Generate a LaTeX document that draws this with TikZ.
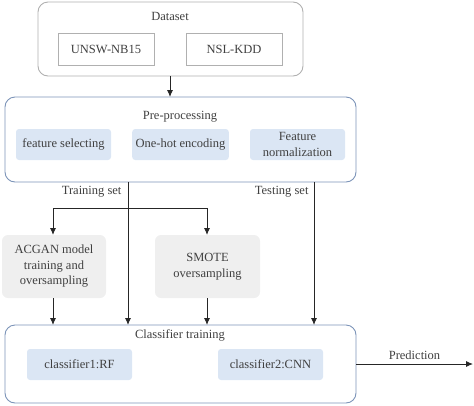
\documentclass[tikz,border=0pt]{standalone}
\usepackage{fontspec}
\setmainfont{Liberation Serif}
\usetikzlibrary{arrows.meta}
\definecolor{lblue}{HTML}{DBE6F4}
\definecolor{bborder}{HTML}{7C94B8}
\definecolor{lgray}{HTML}{EFEFEF}
\definecolor{gborder}{HTML}{B0B0B0}
\definecolor{txt}{HTML}{404040}
\begin{document}
\begin{tikzpicture}[x=1pt,y=-1pt,
  every node/.style={font=\rmfamily\fontsize{12.5}{15.5}\selectfont, text=txt},
  outerbox/.style={draw=#1, line width=0.9pt, rounded corners=10pt},
  graybox/.style={draw=gborder, line width=0.9pt},
  bluebox/.style={fill=lblue, rounded corners=3pt, align=center},
  greybox/.style={fill=lgray, rounded corners=6pt, align=center},
  arr/.style={-{Latex[length=7pt,width=6pt]}, line width=0.9pt, black!85},
  ln/.style={line width=0.9pt, black!85}
]
\useasboundingbox (0,0) rectangle (474,405);
% Dataset
\draw[outerbox=gborder] (38,2) rectangle (303,76);
\node (ds) at (170,16) {Dataset};
\node[graybox, minimum width=96pt, minimum height=32pt] (unsw) at (106,49) {UNSW-NB15};
\node[graybox, minimum width=96pt, minimum height=32pt] (nsl) at (234,49) {NSL-KDD};
\coordinate (dsb) at (170,76);
% Pre-processing
\draw[outerbox=bborder] (5,97) rectangle (356,182);
\coordinate (ppt) at (170,97);
\node (pp) at (180,117) {Pre-processing};
\node[bluebox, minimum width=95pt, minimum height=31pt] (fs) at (63.5,144.5) {feature selecting};
\node[bluebox, minimum width=95pt, minimum height=31pt] (oh) at (180.5,144.5) {One-hot encoding};
\node[bluebox, minimum width=95pt, minimum height=31pt] (fn) at (297.5,144.5) {Feature\\normalization};
\draw[arr] (dsb) -- (ppt);
% labels
\node[anchor=east] (trl) at (125,192) {Training set};
\node[anchor=east] (tel) at (312,192) {Testing set};
% gray boxes
\node[greybox, minimum width=104pt, minimum height=63pt] (acgan) at (54,266.5) {ACGAN model\\training and\\oversampling};
\node[greybox, minimum width=105pt, minimum height=63pt] (smote) at (207.5,266.5) {SMOTE\\oversampling};
% classifier
\draw[outerbox=bborder] (5,325) rectangle (356,403);
\node (ct) at (180,335) {Classifier training};
\node[bluebox, minimum width=105pt, minimum height=31pt] (rf) at (79.5,364.5) {classifier1:RF};
\node[bluebox, minimum width=105pt, minimum height=31pt] (cnn) at (270.5,364.5) {classifier2:CNN};
% connectors
\coordinate (trtop) at (128,182);
\coordinate (trbot) at (128,325);
\coordinate (tetop) at (314,182);
\coordinate (tebot) at (314,325);
\coordinate (hl) at (53,208);
\coordinate (hr) at (207,208);
\draw[arr] (trtop) -- (trbot);
\draw[arr] (tetop) -- (tebot);
\draw[ln] (hl) -- (hr);
\draw[arr] (hl) -- (53,235);
\draw[arr] (hr) -- (207,235);
\draw[arr] (acgan.south -| hl) -- (53,325);
\draw[arr] (smote.south -| hr) -- (207,325);
\coordinate (cr) at (356,364);
\coordinate (pe) at (473,364);
\draw[arr] (cr) -- node[above=1pt] (pl) {Prediction} (pe);
\end{tikzpicture}
\end{document}
